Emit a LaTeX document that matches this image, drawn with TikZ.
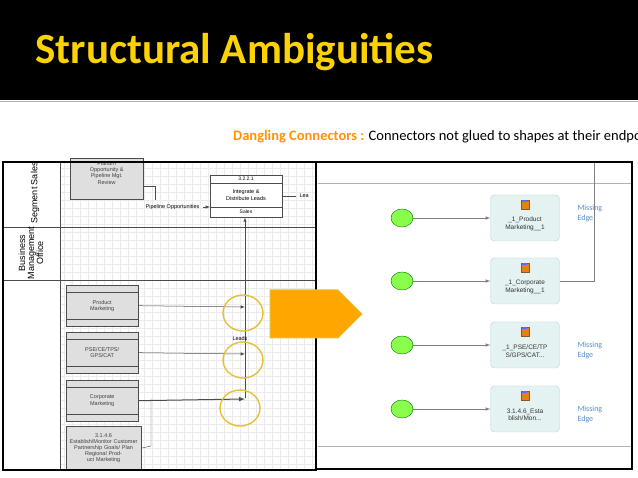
\documentclass[tikz,border=0pt]{standalone}
\usepackage{fontspec}
\setmainfont{Carlito}
\setsansfont{Liberation Sans}
\usetikzlibrary{shapes.arrows,shapes.geometric}
\begin{document}
\begin{tikzpicture}[x=1pt,y=-1pt,
  gbox/.style={draw=black!70,fill=gray!25,line width=0.4pt,font=\sffamily\fontsize{5.5}{6.2}\selectfont,align=center,text=black!75},
  lead/.style={draw=black!70,line width=0.5pt,-latex},
  ring/.style={draw=yellow!50!brown,line width=1.4pt,ellipse},
  task/.style={draw=teal!30,fill=teal!10,rounded corners=4pt,minimum width=69pt,minimum height=46pt,align=center,font=\sffamily\fontsize{6.5}{7.5}\selectfont,text=black!80},
  start/.style={ellipse,draw=green!45!black,fill=green!55!lime!70!white,minimum width=22pt,minimum height=18pt,inner sep=0pt},
  flow/.style={draw=gray,line width=0.6pt,-latex},
  miss/.style={font=\fontsize{8}{10}\selectfont,text=cyan!50!blue!70!white,align=left,anchor=north west}]
\useasboundingbox (0,0) rectangle (638,478);
\fill[white] (0,0) rectangle (638,478);
\fill[black] (0,0) rectangle (638,100);
\draw[gray!60,line width=1pt] (0,102) -- (638,102);
\node[anchor=west,font=\bfseries\fontsize{43}{46}\selectfont,text=yellow!70!orange] (title) at (32,52) {Structural Ambiguities};
\node[anchor=west,font=\fontsize{14.5}{17}\selectfont,inner sep=0pt] (sub) at (233,137) {{\bfseries\color{orange!85!yellow}Dangling Connectors :} Connectors not glued to shapes at their endpoints};
% left panel
\begin{scope}
\clip (3,162) rectangle (316,470);
\draw[black!8,step=8pt] (60,162) grid (316,470);
\end{scope}
\draw[black!70] (60,162) -- (60,470) (3,227) -- (316,227) (3,280) -- (316,280);
\node[rotate=90,font=\sffamily\fontsize{9}{10}\selectfont,align=center] (seg) at (35,193) {Segment Sales};
\node[rotate=90,font=\sffamily\fontsize{9}{9}\selectfont,align=center] (bmo) at (31,253) {Business\\Management\\Office};
\node[gbox,minimum width=73pt,minimum height=38pt,anchor=north west,text depth=12pt] (rev) at (70,158) {Planum\\Opportunity \&\\Pipeline Mgt.\\Review};
\node[draw=black!70,fill=white,minimum width=72pt,minimum height=42pt,anchor=north west] (int) at (210,175) {};
\draw[black!70] (210,183) -- (282,183) (210,207) -- (282,207);
\node[font=\sffamily\fontsize{5}{6}\selectfont] (intn) at (246,179) {3.2.2.1};
\node[font=\sffamily\fontsize{5.5}{6.5}\selectfont,align=center] (intt) at (246,195) {Integrate \&\\Distribute Leads};
\node[font=\sffamily\fontsize{5}{6}\selectfont] (ints) at (246,212) {Sales};
\node[font=\sffamily\fontsize{5.5}{6}\selectfont,anchor=east] (po) at (203,207) {Pipeline Opportunities};
\draw[lead] (po.east) -- (210,207);
\draw[black!70] (143,186) -- (155,186) -- (155,200);
\node[font=\sffamily\fontsize{5.5}{6}\selectfont,anchor=west] (lea) at (296,196) {Lea};
\draw[black!70] (282,196) -- (lea.west);
\coordinate (jn) at (245,398);
\draw[lead] (jn) -- (int.south -| jn);
\node[gbox,minimum width=72pt,minimum height=41pt,anchor=north west] (pm) at (66,285) {Product\\Marketing};
\node[gbox,minimum width=72pt,minimum height=41pt,anchor=north west] (pse) at (66,332) {PSE/CE/TPS/\\GPS/CAT};
\node[gbox,minimum width=72pt,minimum height=41pt,anchor=north west] (cm) at (66,380) {Corporate\\Marketing};
\node[gbox,minimum width=72pt,minimum height=44pt,anchor=north west,text width=68pt,font=\sffamily\fontsize{5.5}{6}\selectfont] (est) at (66,426) {3.1.4.6\\Establish/Monitor Customer Partnership Goals/ Plan\\Regional Product Marketing};
\foreach \n in {pm,pse,cm}{\draw[black!70] (\n.north west)++(0,7) -- ++(72,0); \draw[black!70] (\n.south west)++(0,-7) -- ++(72,0);}
\coordinate (e1) at (245,307); \coordinate (e2) at (245,354); \coordinate (e3) at (245,399);
\draw[lead] (pm.east) -- (e1);
\draw[lead] (pse.east) -- (e2);
\draw[lead,line width=1pt] (cm.east) -- (e3);
\draw[black!70] (est.east) -- (151,446) -- (151,399);
\node[font=\sffamily\fontsize{5.5}{6}\selectfont] (leads) at (240,339) {Leads};
\node[ring,minimum width=40pt,minimum height=36pt] (r1) at (243,313) {};
\node[ring,minimum width=40pt,minimum height=36pt] (r2) at (243,360) {};
\node[ring,minimum width=40pt,minimum height=36pt] (r3) at (240,408) {};
\draw[black,line width=2pt] (3,162) rectangle (316,470);
% right panel
\draw[gray!60,line width=0.8pt] (318,183) -- (632,183) (318,446) -- (632,446);
\foreach \i/\y/\t in {1/218/{\_1\_Product\\Marketing\_\_1},2/281/{\_1\_Corporate\\Marketing\_\_1},3/345/{\_1\_PSE/CE/TP\\S/GPS/CAT...},4/409/{3.1.4.6\_Esta\\blish/Mon...}}{
  \node[start] (s\i) at (402,\y) {};
  \node[task] (t\i) at (525,\y) {};
  \node[font=\sffamily\fontsize{6.5}{7.5}\selectfont,align=center,text=black!80] (tl\i) at (525,\y+6) {\t};
  \node[draw=brown!70!black,fill=orange!60!brown,minimum width=8pt,minimum height=9pt,inner sep=0pt] (ic\i) at (525,\y-13) {};
  \fill[blue!60] (ic\i.north west) ++(1.5,0) rectangle ++(5,2);
  \draw[flow] (s\i) -- (t\i);
}
\draw[gray,line width=0.6pt] (t2.east) -- (594,281) -- (594,162);
\node[miss] (m1) at (574,201) {Missing\\Edge};
\node[miss] (m3) at (574,338) {Missing\\Edge};
\node[miss] (m4) at (574,402) {Missing\\Edge};
\draw[black,line width=2pt] (316,162) rectangle (632,469);
% big arrow
\node[single arrow,draw=yellow!50!brown,fill=orange!70!yellow,line width=1pt,minimum height=92pt,minimum width=48pt,single arrow head extend=0pt,inner sep=0pt] (big) at (304,314) {};
\end{tikzpicture}
\end{document}
